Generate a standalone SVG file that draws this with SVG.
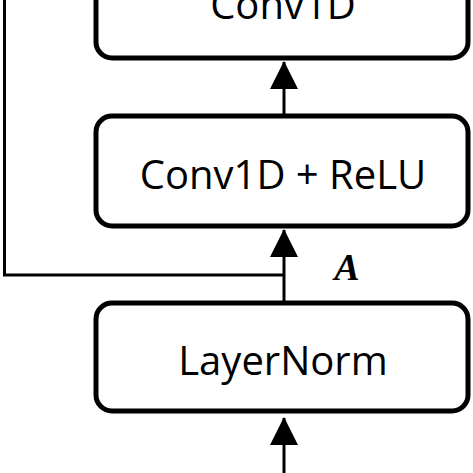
<svg xmlns="http://www.w3.org/2000/svg" width="473" height="473" viewBox="0 0 473 473">
<defs>
<style>
.box{fill:#fff;stroke:#000;stroke-width:5}
.lbl{font-family:"Open Sans","Noto Sans",sans-serif;font-size:40px;fill:#000;text-anchor:middle}
.ln{fill:none;stroke:#000;stroke-width:3}
</style>
<marker id="ah" markerUnits="userSpaceOnUse" markerWidth="30" markerHeight="28" viewBox="0 0 30 28" refX="27" refY="14" orient="auto">
<path d="M0,0 L28,14 L0,28 Z" fill="#000"/>
</marker>
</defs>
<g id="connectors">
<polyline class="ln" points="4.5,0 4.5,275 284,275"/>
<line class="ln" x1="284" y1="116" x2="284" y2="62" marker-end="url(#ah)"/>
<line class="ln" x1="284" y1="303" x2="284" y2="230" marker-end="url(#ah)"/>
<line class="ln" x1="284" y1="473" x2="284" y2="418" marker-end="url(#ah)"/>
<text x="347" y="280" font-family="'Liberation Serif',serif" font-weight="bold" font-style="italic" font-size="38" text-anchor="middle">A</text>
</g>
<g id="conv1d">
<rect class="box" x="96" y="-60" width="372" height="118" rx="16"/>
<text class="lbl" x="283" y="19">Conv1D</text>
</g>
<g id="conv1d-relu">
<rect class="box" x="96" y="116" width="372" height="110" rx="16"/>
<text class="lbl" x="283" y="189">Conv1D + ReLU</text>
</g>
<g id="layernorm">
<rect class="box" x="96" y="303" width="372" height="108" rx="16"/>
<text class="lbl" x="283" y="375">LayerNorm</text>
</g>
</svg>
